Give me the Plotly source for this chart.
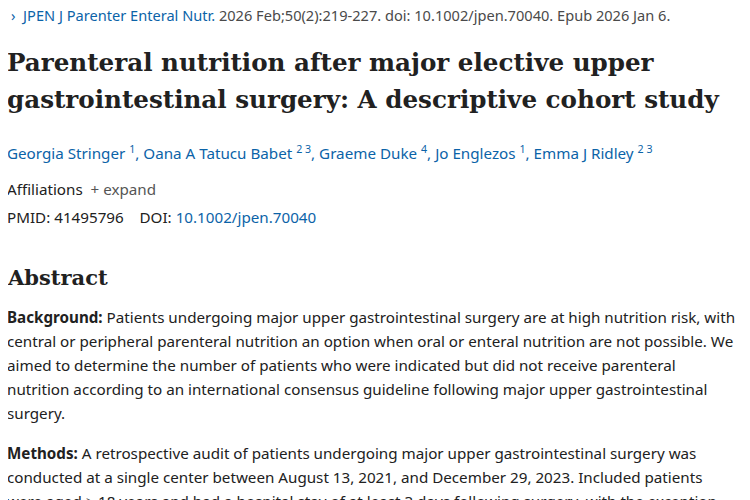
import plotly.graph_objects as go

W, H = 750, 500
BLUE = "#0b63a8"
DARK = "#212121"
GRAY = "#4a4a4a"
SANS = "Noto Sans"
SERIF = "DejaVu Serif"

title_lines = ["Parenteral nutrition after major elective upper",
               "gastrointestinal surgery: A descriptive cohort study"]
background_lines = [
    "<b>Background:</b> Patients undergoing major upper gastrointestinal surgery are at high nutrition risk, with",
    "central or peripheral parenteral nutrition an option when oral or enteral nutrition are not possible. We",
    "aimed to determine the number of patients who were indicated but did not receive parenteral",
    "nutrition according to an international consensus guideline following major upper gastrointestinal",
    "surgery.",
]
methods_lines = [
    "<b>Methods:</b> A retrospective audit of patients undergoing major upper gastrointestinal surgery was",
    "conducted at a single center between August 13, 2021, and December 29, 2023. Included patients",
    "were aged ≥ 18 years and had a hospital stay of at least 3 days following surgery, with the exception",
]

ann = []
def add(x, y, text, size, color=DARK, family=SANS):
    ann.append(dict(x=0, y=1 - y / H, xref="paper", yref="paper", text=text,
                    xshift=x - 2, yshift=8,
                    showarrow=False, xanchor="left", yanchor="middle", borderpad=0,
                    font=dict(size=size, color=color, family=family)))

add(4, 15, f"<span style='color:{BLUE}'>›  JPEN J Parenter Enteral Nutr.</span>"
           f"<span style='color:{GRAY}'> 2026 Feb;50(2):219-227. doi: 10.1002/jpen.70040. Epub 2026 Jan 6.</span>", 14.6)
for i, t in enumerate(title_lines):
    add(0, 62 + 38 * i, f"<b>{t}</b>", 24.6, DARK, SERIF)
add(0, 152, f"<span style='color:{BLUE}'>Georgia Stringer <sup>1</sup>, Oana A Tatucu Babet <sup>2 3</sup>, "
            f"Graeme Duke <sup>4</sup>, Jo Englezos <sup>1</sup>, Emma J Ridley <sup>2 3</sup></span>", 15.2)
add(0, 189, "Affiliations  <span style='color:#555'>+ expand</span>", 15.2)
add(0, 217, f"PMID: 41495796    DOI: <span style='color:{BLUE}'>10.1002/jpen.70040</span>", 15.2)
add(0, 277, "<b>Abstract</b>", 21, DARK, SERIF)
for i, t in enumerate(background_lines):
    add(0, 317 + 24 * i, t, 15.2)
for i, t in enumerate(methods_lines):
    add(0, 453 + 24 * i, t, 15.2)

fig = go.Figure()
fig.update_layout(width=W, height=H, margin=dict(l=0, r=0, t=0, b=0),
                  paper_bgcolor="white", plot_bgcolor="white",
                  xaxis=dict(visible=False), yaxis=dict(visible=False),
                  annotations=ann, showlegend=False)
fig.write_html("out.html", config={"displayModeBar": False})
